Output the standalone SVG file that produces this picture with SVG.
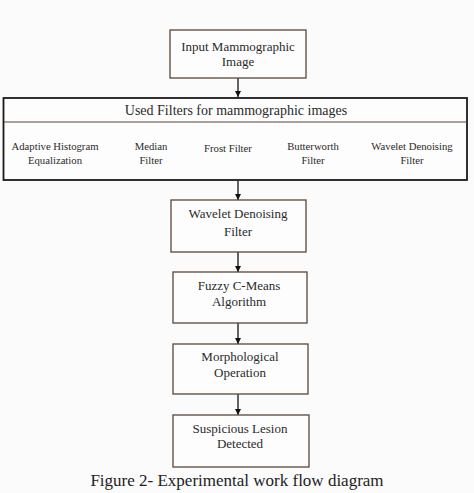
<svg xmlns="http://www.w3.org/2000/svg" width="474" height="493" viewBox="0 0 474 493">
<style>
  .box{fill:#fdfdfd;stroke:#5a4638;stroke-width:1.3}
  .t{font-family:"Liberation Serif","Times New Roman",serif;font-size:13px;fill:#2a2a2a;text-anchor:middle}
  .s{font-family:"Liberation Serif","Times New Roman",serif;font-size:10.7px;fill:#2a2a2a;text-anchor:middle}
  .h{font-family:"Liberation Serif","Times New Roman",serif;font-size:14px;fill:#2a2a2a;text-anchor:middle}
  .c{stroke:#111;stroke-width:1.3;fill:none}
</style>
<defs>
  <marker id="ah" viewBox="0 0 10 10" refX="10" refY="5" markerWidth="6" markerHeight="6" orient="auto" markerUnits="userSpaceOnUse">
    <path d="M0,0 L10,5 L0,10 Z" fill="#111"/>
  </marker>
</defs>
<rect width="474" height="493" fill="#fbfbfb"/>
<g id="connectors">
  <line class="c" x1="238" y1="78" x2="238" y2="97" marker-end="url(#ah)"/>
  <line class="c" x1="238" y1="181" x2="238" y2="200" marker-end="url(#ah)"/>
  <line class="c" x1="238" y1="252" x2="238" y2="272" marker-end="url(#ah)"/>
  <line class="c" x1="238" y1="323" x2="238" y2="344" marker-end="url(#ah)"/>
  <line class="c" x1="238" y1="394" x2="238" y2="415" marker-end="url(#ah)"/>
</g>
<g id="input">
  <rect class="box" x="170" y="30" width="136" height="48"/>
  <text class="t" x="238" y="51">Input Mammographic</text>
  <text class="t" x="238" y="66">Image</text>
</g>
<g id="filters">
  <rect x="3.5" y="98" width="463.5" height="82" fill="#fdfdfd" stroke="#1a1a1a" stroke-width="1.8"/>
  <line x1="4" y1="122" x2="467" y2="122" stroke="#5a4638" stroke-width="1.2"/>
  <text class="h" x="236" y="115">Used Filters for mammographic images</text>
  <text class="s" x="55" y="150">Adaptive Histogram</text>
  <text class="s" x="55" y="164">Equalization</text>
  <text class="s" x="151" y="150">Median</text>
  <text class="s" x="151" y="164">Filter</text>
  <text class="s" x="228" y="152">Frost Filter</text>
  <text class="s" x="313" y="150">Butterworth</text>
  <text class="s" x="313" y="164">Filter</text>
  <text class="s" x="412" y="150">Wavelet Denoising</text>
  <text class="s" x="412" y="164">Filter</text>
</g>
<g id="wavelet">
  <rect class="box" x="171" y="200" width="135" height="52"/>
  <text class="t" x="238" y="218">Wavelet Denoising</text>
  <text class="t" x="238" y="236">Filter</text>
</g>
<g id="fuzzy">
  <rect class="box" x="173" y="272" width="134" height="51"/>
  <text class="t" x="239" y="290">Fuzzy C-Means</text>
  <text class="t" x="239" y="306">Algorithm</text>
</g>
<g id="morph">
  <rect class="box" x="173" y="344" width="135" height="50"/>
  <text class="t" x="240" y="361">Morphological</text>
  <text class="t" x="240" y="377">Operation</text>
</g>
<g id="lesion">
  <rect class="box" x="173" y="415" width="136" height="52"/>
  <text class="t" x="240" y="433">Suspicious Lesion</text>
  <text class="t" x="240" y="448">Detected</text>
</g>
<text x="237" y="486" font-family="Liberation Serif, Times New Roman, serif" font-size="17" fill="#222" text-anchor="middle">Figure 2- Experimental work flow diagram</text>
</svg>
